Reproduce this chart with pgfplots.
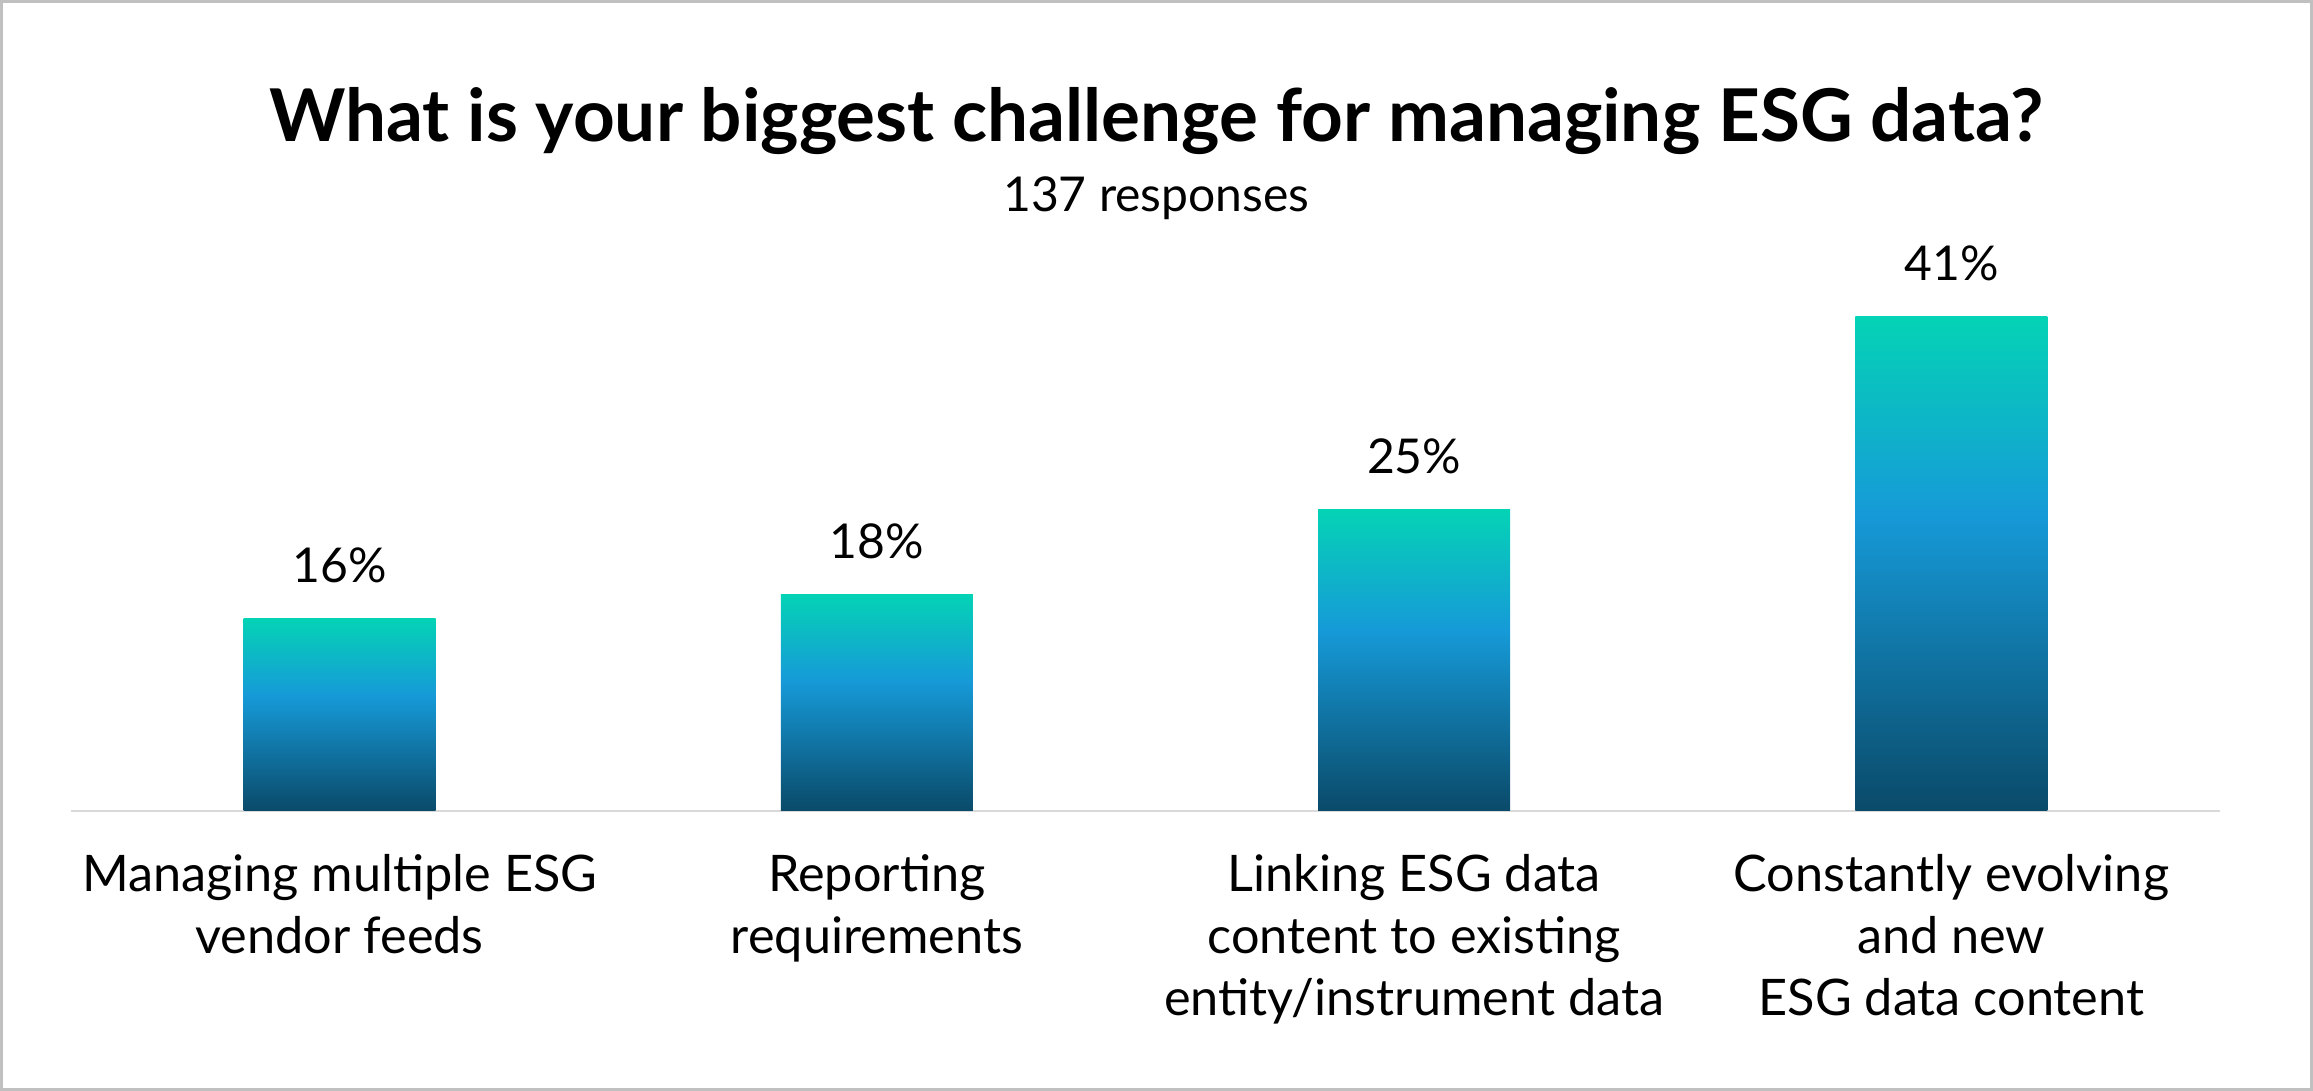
\documentclass[border=0pt]{standalone}
\usepackage{fontspec}
\setmainfont{Lato}
\usepackage{pgfplots}
\pgfplotsset{compat=1.18}

\definecolor{esgteal}{HTML}{04D3B5}
\definecolor{esgblue}{HTML}{169AD8}
\definecolor{esgdark}{HTML}{0A4A69}
\definecolor{framegray}{HTML}{C0C0C0}
\definecolor{axisgray}{HTML}{D9D9D9}
% bottom -> top, the middle 25bp..75bp is stretched over each bar
\pgfdeclareverticalshading{esgbar}{100bp}{color(0bp)=(esgdark); color(25bp)=(esgdark); color(55bp)=(esgblue); color(75bp)=(esgteal); color(100bp)=(esgteal)}

\newcommand{\lblfont}{\fontsize{12}{15.5}\selectfont}
\newcommand{\tickfont}{\fontsize{12.6}{15.5}\selectfont}

\begin{document}
\begin{tikzpicture}
  \draw[framegray, line width=0.75pt] (0.375pt,0.375pt) rectangle (577.875pt,272.375pt);
  \node[font=\bfseries\fontsize{18.2}{20}\selectfont, anchor=base, inner sep=0pt]
    at (289.1pt,237.25pt) {What is your biggest challenge for managing ESG data?};
  \node[font=\lblfont, anchor=base, inner sep=0pt]
    at (289.1pt,219.75pt) {137 responses};

  \begin{axis}[
      at={(17.75pt,70pt)}, anchor=south west,
      scale only axis,
      width=537.25pt, height=135.6pt,
      xmin=-0.5, xmax=3.5, ymin=0, ymax=45,
      axis y line=none,
      axis x line*=bottom,
      x axis line style={axisgray, line width=0.6pt, -},
      xtick={0,1,2,3},
      xticklabels={
        {Managing multiple ESG\\vendor feeds},
        {Reporting\\requirements},
        {Linking ESG data\\content to existing\\entity/instrument data},
        {Constantly evolving\\and new\\ESG data content}},
      major tick length=0pt,
      xticklabel style={font=\tickfont, align=center, anchor=north, inner sep=0pt, yshift=-10.6pt},
      /pgf/number format/assume math mode=true,
      clip=false,
    ]
    \pgfplotsset{
      esgstyle/.style={
        ybar, bar width=48pt, bar shift=0pt, draw=none, shading=esgbar,
        nodes near coords={\pgfmathprintnumber{\pgfplotspointmeta}\%},
        every node near coord/.append style={font=\lblfont, text=black, anchor=base, inner sep=0pt, yshift=9pt},
      }
    }
    \addplot[esgstyle] coordinates {(0,16)};
    \addplot[esgstyle] coordinates {(1,18)};
    \addplot[esgstyle] coordinates {(2,25)};
    \addplot[esgstyle] coordinates {(3,41)};
  \end{axis}
\end{tikzpicture}
\end{document}
